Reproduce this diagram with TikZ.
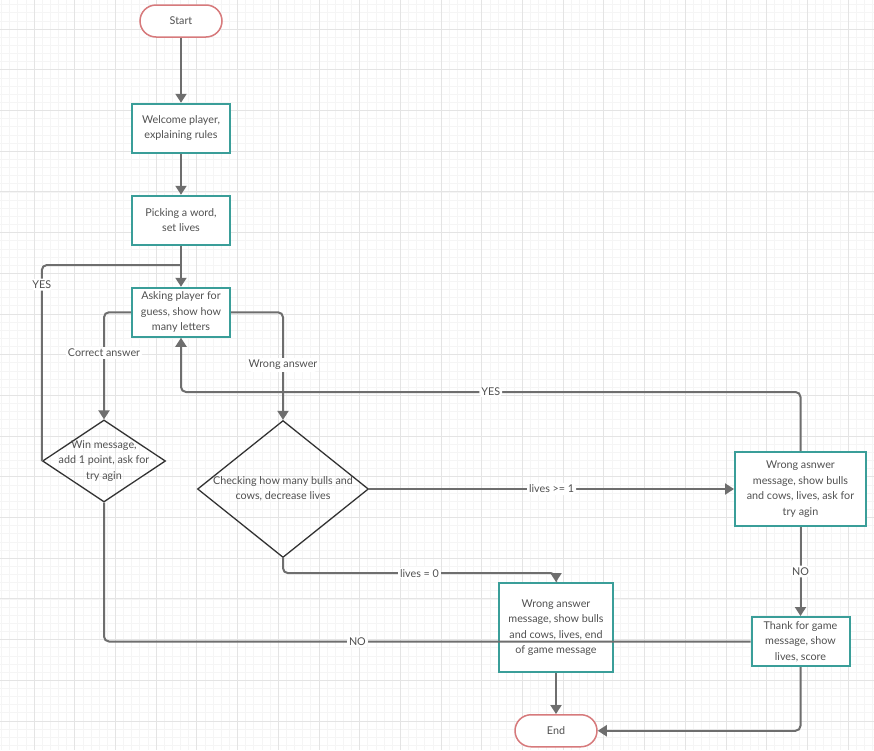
\documentclass[tikz,border=0pt]{standalone}
\usepackage{fontspec}
\setmainfont{Lato}
\usetikzlibrary{positioning,arrows.meta,shapes.geometric}
\definecolor{gridminor}{HTML}{F5F5F5}
\definecolor{gridmajor}{HTML}{E4E4E4}
\definecolor{termred}{HTML}{D77A7C}
\definecolor{procteal}{HTML}{3A9E99}
\definecolor{wire}{HTML}{6E6E6E}
\definecolor{txt}{HTML}{505050}
\tikzset{
  base/.style  ={align=center, font=\fontsize{10.75}{15.5}\selectfont, text=txt, inner sep=2pt},
  term/.style  ={base, fill=white, draw=termred, line width=1.5pt, rounded corners=16pt,
                 minimum width=82pt, minimum height=32pt},
  proc/.style  ={base, fill=white, draw=procteal, line width=2pt,
                 minimum width=98pt, minimum height=49pt},
  decide/.style={diamond, draw=black!80, line width=1.3pt, inner sep=0pt},
  dtext/.style ={base},
  ln/.style    ={draw=wire, line width=2pt, rounded corners=5pt},
  fl/.style    ={ln, -{Triangle[length=9pt, width=11pt]}},
  lbl/.style   ={font=\fontsize{10.75}{12}\selectfont, text=txt, fill=white, inner sep=2pt},
}

\begin{document}
\begin{tikzpicture}[x=1pt, y=-1pt]
  \useasboundingbox[fill=white] (0,0) rectangle (874,750);

  % background grid
  \foreach \i in {0,...,108}{
    \draw[gridminor, line width=0.6pt] ({1.4+8.14*\i},0) -- ++(0,750);
  }
  \foreach \j in {0,...,93}{
    \draw[gridminor, line width=0.6pt] (0,{4.6+8.14*\j}) -- ++(874,0);
  }
  \foreach \i in {0,...,21}{
    \draw[gridmajor, line width=0.8pt] ({-6.7+40.7*\i},0) -- ++(0,750);
  }
  \foreach \j in {0,...,19}{
    \draw[gridmajor, line width=0.8pt] (0,{-11.7+40.7*\j}) -- ++(874,0);
  }

  % main column
  \node[term] (start) at (181,21) {Start};
  \node[proc, below=65pt of start] (welcome) {Welcome player,\\ explaining rules};
  \node[proc, below=41pt of welcome] (pick) {Picking a word,\\ set lives};
  \node[proc, below=41pt of pick] (ask) {Asking player for\\ guess, show how\\ many letters};

  % decisions
  \node[decide, minimum width=123pt, minimum height=82pt] (win) at (104,461) {};
  \node[dtext] (wintxt) at (win) {Win message,\\ add 1 point, ask for\\ try agin};
  \node[decide, minimum width=171pt, minimum height=137pt] (chk) at (283,489) {};
  \node[dtext] (chktxt) at (chk) {Checking how many bulls and\\ cows, decrease lives};

  % outcomes
  \node[proc, minimum width=131pt, minimum height=74pt] (retry) at (800.5,489)
        {Wrong asnwer\\ message, show bulls\\ and cows, lives, ask for\\ try agin};
  \node[proc, below=89pt of retry] (thank) {Thank for game\\ message, show\\ lives, score};
  \node[proc, minimum width=114pt, minimum height=89pt] (gameover) at (556,627.5)
        {Wrong answer\\ message, show bulls\\ and cows, lives, end\\ of game message};
  \node[term, below=41pt of gameover] (stop) {End};

  \coordinate (join) at (181,265);
  \coordinate (back) at (181,392);

  \draw[fl] (start) -- (welcome);
  \draw[fl] (welcome) -- (pick);
  \draw[fl] (pick) -- (ask);
  \draw[ln] (win.west) |- (join) node[lbl, pos=0.45]{YES};
  \draw[fl] (ask.west) -| (win.north) node[lbl, pos=0.69]{Correct answer};
  \draw[fl] (ask.east) -| (chk.north) node[lbl, pos=0.745]{Wrong answer};
  \draw[fl] (chk.east) -- (retry.west) node[lbl, pos=0.5]{lives >= 1};
  \draw[fl] (retry.north) |- (back) node[lbl, pos=0.75]{YES} -- (ask.south);
  \draw[fl] (retry.south) -- (thank.north) node[lbl, midway]{NO};
  \draw[fl] (chk.south) -- ++(0,15) -| (gameover.north) node[lbl, pos=0.25]{lives = 0};
  \draw[fl] (gameover) -- (stop);
  \draw[fl] (thank.south) |- (stop.east);
  \draw[ln] (win.south) |- (thank.west) node[lbl, pos=0.696]{NO};
\end{tikzpicture}
\end{document}
